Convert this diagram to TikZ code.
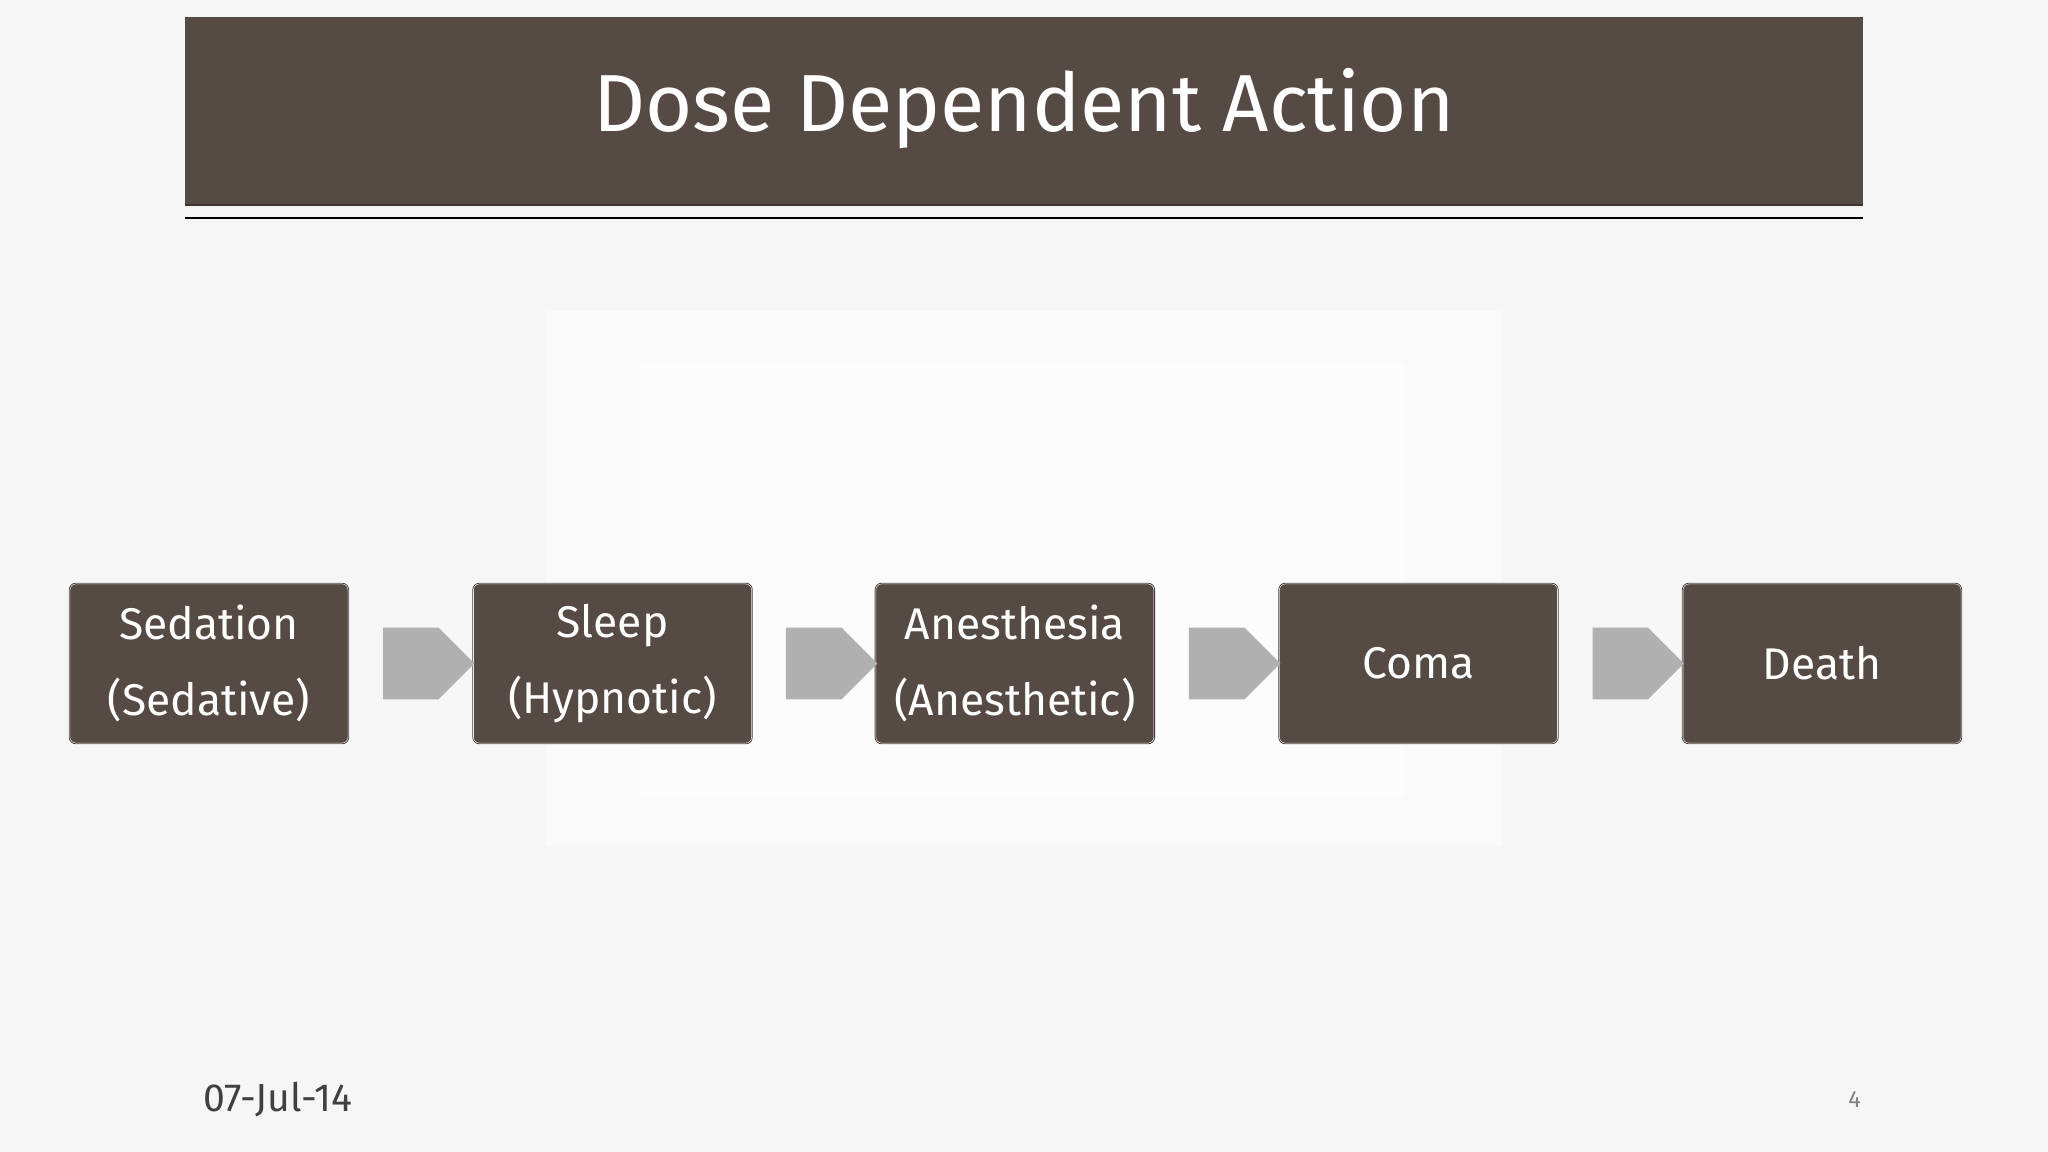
\documentclass[tikz,border=0pt]{standalone}
\usepackage{fontspec}
\setmainfont{Fira Sans}
\usetikzlibrary{shapes.arrows}
\definecolor{brn}{HTML}{564A45}
\definecolor{bg}{HTML}{F6F6F6}
\definecolor{arr}{HTML}{B0B0B0}
\tikzset{
  stage/.style={draw=white,line width=1.5pt,fill=brn,rounded corners=5pt,minimum width=214pt,minimum height=123pt,text=white,font=\fontsize{34}{58}\selectfont,align=center,
    postaction={draw=brn!80!black,line width=0.6pt,rounded corners=6pt}},
  blk/.style={single arrow,fill=arr,draw=none,minimum height=70pt,minimum width=55pt,single arrow head extend=0pt,inner sep=0pt,
    single arrow tip angle=90}
}
\begin{document}
\begin{tikzpicture}[x=1pt,y=-1pt]
\fill[bg] (0,0) rectangle (1568,882);
\useasboundingbox (0,0) rectangle (1568,882);
\fill[white,opacity=0.5] (418,238) rectangle (1150,648);
\fill[white,opacity=0.5] (490,278) rectangle (1076,610);
\fill[brn] (142,13) rectangle (1426,158);
\draw[brn!70!black,line width=1.5pt] (142,157) -- (1426,157);
\draw[black,line width=1pt] (142,167) coordinate (l1) -- (1426,167) coordinate (l2);
\node[text=white,font=\fontsize{62}{70}\selectfont] (title) at (784,83) {Dose Dependent Action};
\node[stage] (a) at (160,508) {Sedation\\(Sedative)};
\node[stage] (b) at (469,508) {Sleep\\(Hypnotic)};
\node[stage] (c) at (777,508) {Anesthesia\\(Anesthetic)};
\node[stage] (d) at (1086,508) {Coma};
\node[stage] (e) at (1395,508) {Death};
\foreach \p/\q in {a/b,b/c,c/d,d/e}{
  \path (\p.east) -- (\q.west) node[midway,blk] (ar\p) {};
}
\node[text=black!75,font=\fontsize{30}{36}\selectfont,anchor=west] (date) at (152,842) {07-Jul-14};
\node[text=black!50,font=\fontsize{18}{22}\selectfont] (pg) at (1420,842) {4};
\end{tikzpicture}
\end{document}
